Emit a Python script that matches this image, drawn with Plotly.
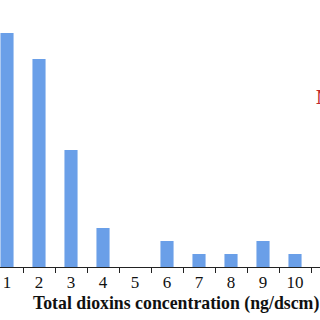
import plotly.graph_objects as go

categories = ["1", "2", "3", "4", "5", "6", "7", "8", "9", "10", "11"]
counts = [18, 16, 9, 3, 0, 2, 1, 1, 2, 1, 0]
x_title = "Total dioxins concentration (ng/dscm)"

fig = go.Figure()
fig.add_trace(go.Bar(
    x=categories, y=counts, width=0.41,
    marker=dict(color="#6a9fe8", line=dict(width=0)),
))

fig.add_annotation(
    text="<b>N</b>", xref="paper", yref="paper", x=0.981, y=0.64,
    xanchor="left", yanchor="middle", showarrow=False,
    font=dict(family="Liberation Serif", size=22, color="#c0282d"),
)

fig.add_annotation(
    text="<b>" + x_title + "</b>", xref="paper", yref="paper",
    x=0.55, y=-0.138, xanchor="center", yanchor="middle", showarrow=False,
    font=dict(family="Liberation Serif", size=17.8, color="#111"),
)

fig.update_layout(
    width=320, height=320,
    margin=dict(l=0, r=0, t=0, b=53),
    paper_bgcolor="white", plot_bgcolor="white",
    showlegend=False,
    xaxis=dict(
        type="category", range=[-0.219, 9.781],
        tickson="boundaries", ticks="outside", ticklen=5, tickcolor="#222",
        showline=True, linecolor="#222", linewidth=1,
        showgrid=False,
        tickfont=dict(family="Liberation Serif", size=17, color="#111"),
    ),
    yaxis=dict(range=[0, 20.54], visible=False, showgrid=False),
)

fig.write_html("out.html")
